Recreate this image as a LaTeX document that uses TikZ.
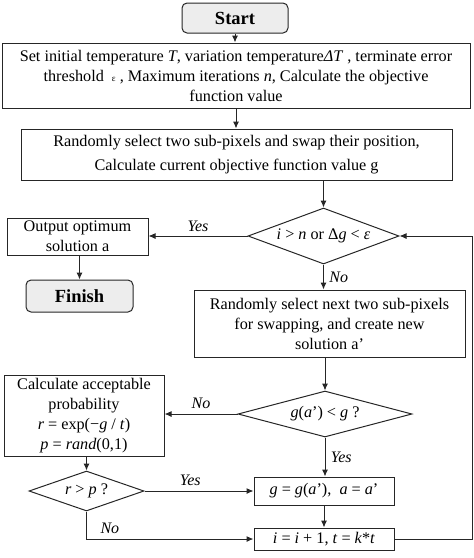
\documentclass[tikz,border=0pt]{standalone}
\usepackage{fontspec}
\setmainfont{Liberation Serif}
\usetikzlibrary{arrows.meta,shapes.geometric}
\newcommand{\zw}[1]{\makebox[0pt]{#1}}
\begin{document}
\begin{tikzpicture}[x=1pt,y=-1pt,
  every node/.style={font=\fontsize{16.2}{20}\selectfont},
  box/.style={draw=black!85,line width=1pt,align=center,inner sep=1pt},
  term/.style={box,rounded corners=5pt,fill=black!7,font=\fontsize{18.5}{20}\selectfont\bfseries},
  dia/.style={draw=black!85,line width=1pt,shape=diamond,aspect=1,inner sep=0pt},
  lab/.style={font=\fontsize{16}{18}\selectfont\itshape},
  arr/.style={draw=black!85,line width=1pt,-{Latex[length=7pt,width=6pt]}}]
\useasboundingbox (0,0) rectangle (474,558);
\node[term,minimum width=106,minimum height=30] (start) at (235,18) {Start};
\node[box,minimum width=468,minimum height=65] (box1) at (236,75.5)
 {Set initial temperature \textit{T}, variation temperature\textit{ΔT} , terminate error\\
  threshold \ {\small ε} , Maximum iterations \textit{n}, Calculate the objective\\
  function value};
\node[box,minimum width=431,minimum height=51,font=\fontsize{16.2}{24}\selectfont] (box2) at (236.5,154.5)
 {Randomly select two sub-pixels and swap their position,\\Calculate current objective function value g};
\node[dia,minimum width=151,minimum height=56] (d1) at (323.5,236)
 {\zw{\textit{i} > \textit{n} or Δ\textit{g} < \textit{ε}}};
\node[box,minimum width=141,minimum height=37] (out) at (77.5,236.5)
 {Output optimum\\solution a};
\node[term,minimum width=107,minimum height=32] (fin) at (79.5,296) {Finish};
\node[box,minimum width=271,minimum height=67] (box3) at (329.5,323.5)
 {Randomly select next two sub-pixels\\for swapping, and create new\\solution a’};
\node[dia,minimum width=174,minimum height=46] (d2) at (325,414)
 {\zw{\textit{g}(\textit{a}’) < \textit{g} ?}};
\node[box,minimum width=160,minimum height=81] (calc) at (84,415.5)
 {Calculate acceptable\\probability\\\textit{r} = exp(−\textit{g} / \textit{t})\\\textit{p} = \textit{rand}(0,1)};
\node[box,minimum width=140,minimum height=28] (bg) at (324,491)
 {\textit{g} = \textit{g}(\textit{a}’), \ \textit{a} = \textit{a}’};
\node[dia,minimum width=115,minimum height=40] (d3) at (86.5,491)
 {\zw{\textit{r} > \textit{p} ?}};
\node[box,minimum width=140,minimum height=22] (bi) at (324,539)
 {\textit{i} = \textit{i} + 1, \textit{t} = \textit{k}*\textit{t}};
\coordinate (c1) at (472,539);
\coordinate (c2) at (472,236);
% connectors
\draw[arr] (start.south) -- (start.south|-box1.north);
\draw[arr] (box1.south) -- (box1.south|-box2.north);
\draw[arr] (d1.north|-box2.south) -- (d1.north);
\draw[arr] (d1.west) -- (out.east|-d1.west) node[lab,midway,above=1pt] {Yes};
\draw[arr] (fin.north|-out.south) -- (fin.north);
\draw[arr] (d1.south) -- (d1.south|-box3.north) node[lab,midway,right=2pt] {No};
\draw[arr] (d2.north|-box3.south) -- (d2.north);
\draw[arr] (d2.west) -- (calc.east|-d2.west) node[lab,midway,above=2pt] {No};
\draw[arr] (d2.south) -- (d2.south|-bg.north) node[lab,midway,right=2pt] {Yes};
\draw[arr] (d3.north|-calc.south) -- (d3.north);
\draw[arr] (d3.east) -- (bg.west|-d3.east) node[lab,pos=0.42,above=2pt] {Yes};
\draw[arr] (bg.south) -- (bg.south|-bi.north);
\draw[arr] (d3.south) |- (bi.west) node[lab,pos=0.57,above=2pt] {No};
\draw[arr] (bi.east) -- (c1) -- (c2) -- (d1.east);
\end{tikzpicture}
\end{document}
